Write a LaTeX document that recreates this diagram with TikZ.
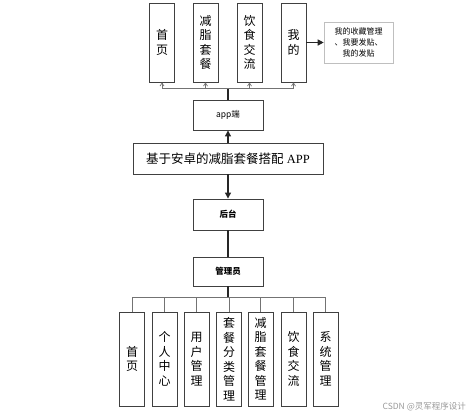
\documentclass[tikz,border=0pt]{standalone}
\usepackage{fontspec}
\setmainfont{Liberation Serif}
\newfontfamily\cjk{Noto Sans CJK SC}
\usetikzlibrary{arrows.meta,shadows}
\begin{document}
\begin{tikzpicture}[x=1pt,y=-1pt,
  boxline/.style={draw=black!75,line width=0.9pt},
  vbox/.style={boxline,minimum width=25pt,inner sep=0pt,align=center,
     font=\cjk\fontsize{12}{14.5}\selectfont},
  sbox/.style={boxline,minimum width=70pt,minimum height=30pt,inner sep=0pt,
     font=\cjk\fontsize{8.5}{10}\selectfont},
  trunk/.style={draw=black!85,line width=1.2pt},
  branch/.style={draw=black!55,line width=0.7pt},
  bigarrow/.style={trunk,-{Triangle[length=6pt,width=6pt]}},
  smallarrow/.style={branch,-{Straight Barb[length=3pt,width=4pt]}}
]
\useasboundingbox (0,0) rectangle (474,418);
% top row
\node[vbox,minimum height=79pt] (t1) at (162,42.5) {首\\页};
\node[vbox,minimum height=79pt] (t2) at (205.5,42.5) {减\\脂\\套\\餐};
\node[vbox,minimum height=79pt] (t3) at (249.5,42.5) {饮\\食\\交\\流};
\node[vbox,minimum height=79pt] (t4) at (293.5,42.5) {我\\的};
\node[draw=black!25,line width=0.6pt,fill=white,minimum width=69pt,minimum height=41pt,
  inner sep=0pt,align=center,font=\cjk\fontsize{8}{11}\selectfont,
  drop shadow={shadow xshift=1pt,shadow yshift=-1pt,opacity=0.25}]
  (note) at (358.5,42.5) {我的收藏管理\\、我要发贴、\\我的发贴};
\draw[bigarrow] (t4.east) -- (note.west);
% app
\node[sbox] (app) at (228,115) {app端};
\coordinate (tj) at (228,88);
\coordinate (tj1) at (162,88);
\coordinate (tj4) at (293.5,88);
\draw[trunk] (app.north) -- (tj);
\draw[branch] (tj1) -- (tj4);
\draw[smallarrow] (tj1) -- (t1.south);
\draw[smallarrow] (t2.south |- tj) -- (t2.south);
\draw[smallarrow] (t3.south |- tj) -- (t3.south);
\draw[smallarrow] (tj4) -- (t4.south);
% title
\node[boxline,minimum width=190pt,minimum height=31pt,inner sep=0pt,
  font=\fontsize{12.5}{14}\selectfont] (title) at (228,158.5) {{\cjk 基于安卓的减脂套餐搭配} APP};
\draw[bigarrow] (title.north) -- (app.south);
\node[sbox,minimum height=31pt] (ht) at (228,214.5) {\bfseries 后台};
\draw[bigarrow] (title.south) -- (ht.north);
\node[sbox,minimum height=29pt] (gl) at (228,271.5) {\bfseries 管理员};
\draw[trunk] (ht.south) -- (gl.north);
% bottom row
\foreach \n/\x/\t in {b1/132/首\\页, b2/164.5/个\\人\\中\\心, b3/196.5/用\\户\\管\\理,
   b4/229/套\\餐\\分\\类\\管\\理, b5/260.5/减\\脂\\套\\餐\\管\\理, b6/293.5/饮\\食\\交\\流,
   b7/325.5/系\\统\\管\\理}
  \node[vbox,minimum height=94pt] (\n) at (\x,359) {\t};
\coordinate (bj) at (228,297);
\coordinate (bj1) at (132,297);
\coordinate (bj7) at (325.5,297);
\draw[trunk] (gl.south) -- (bj);
\draw[branch] (bj1) -- (bj7);
\foreach \n in {b1,b2,b3,b4,b5,b6,b7}
  \draw[branch] (\n.north |- bj) -- (\n.north);
% watermark
\node[text=black!40,font=\fontsize{8.5}{10}\selectfont,anchor=east,inner sep=0pt] (wm) at (466,407)
  {\cjk CSDN @灵军程序设计};
\end{tikzpicture}
\end{document}
